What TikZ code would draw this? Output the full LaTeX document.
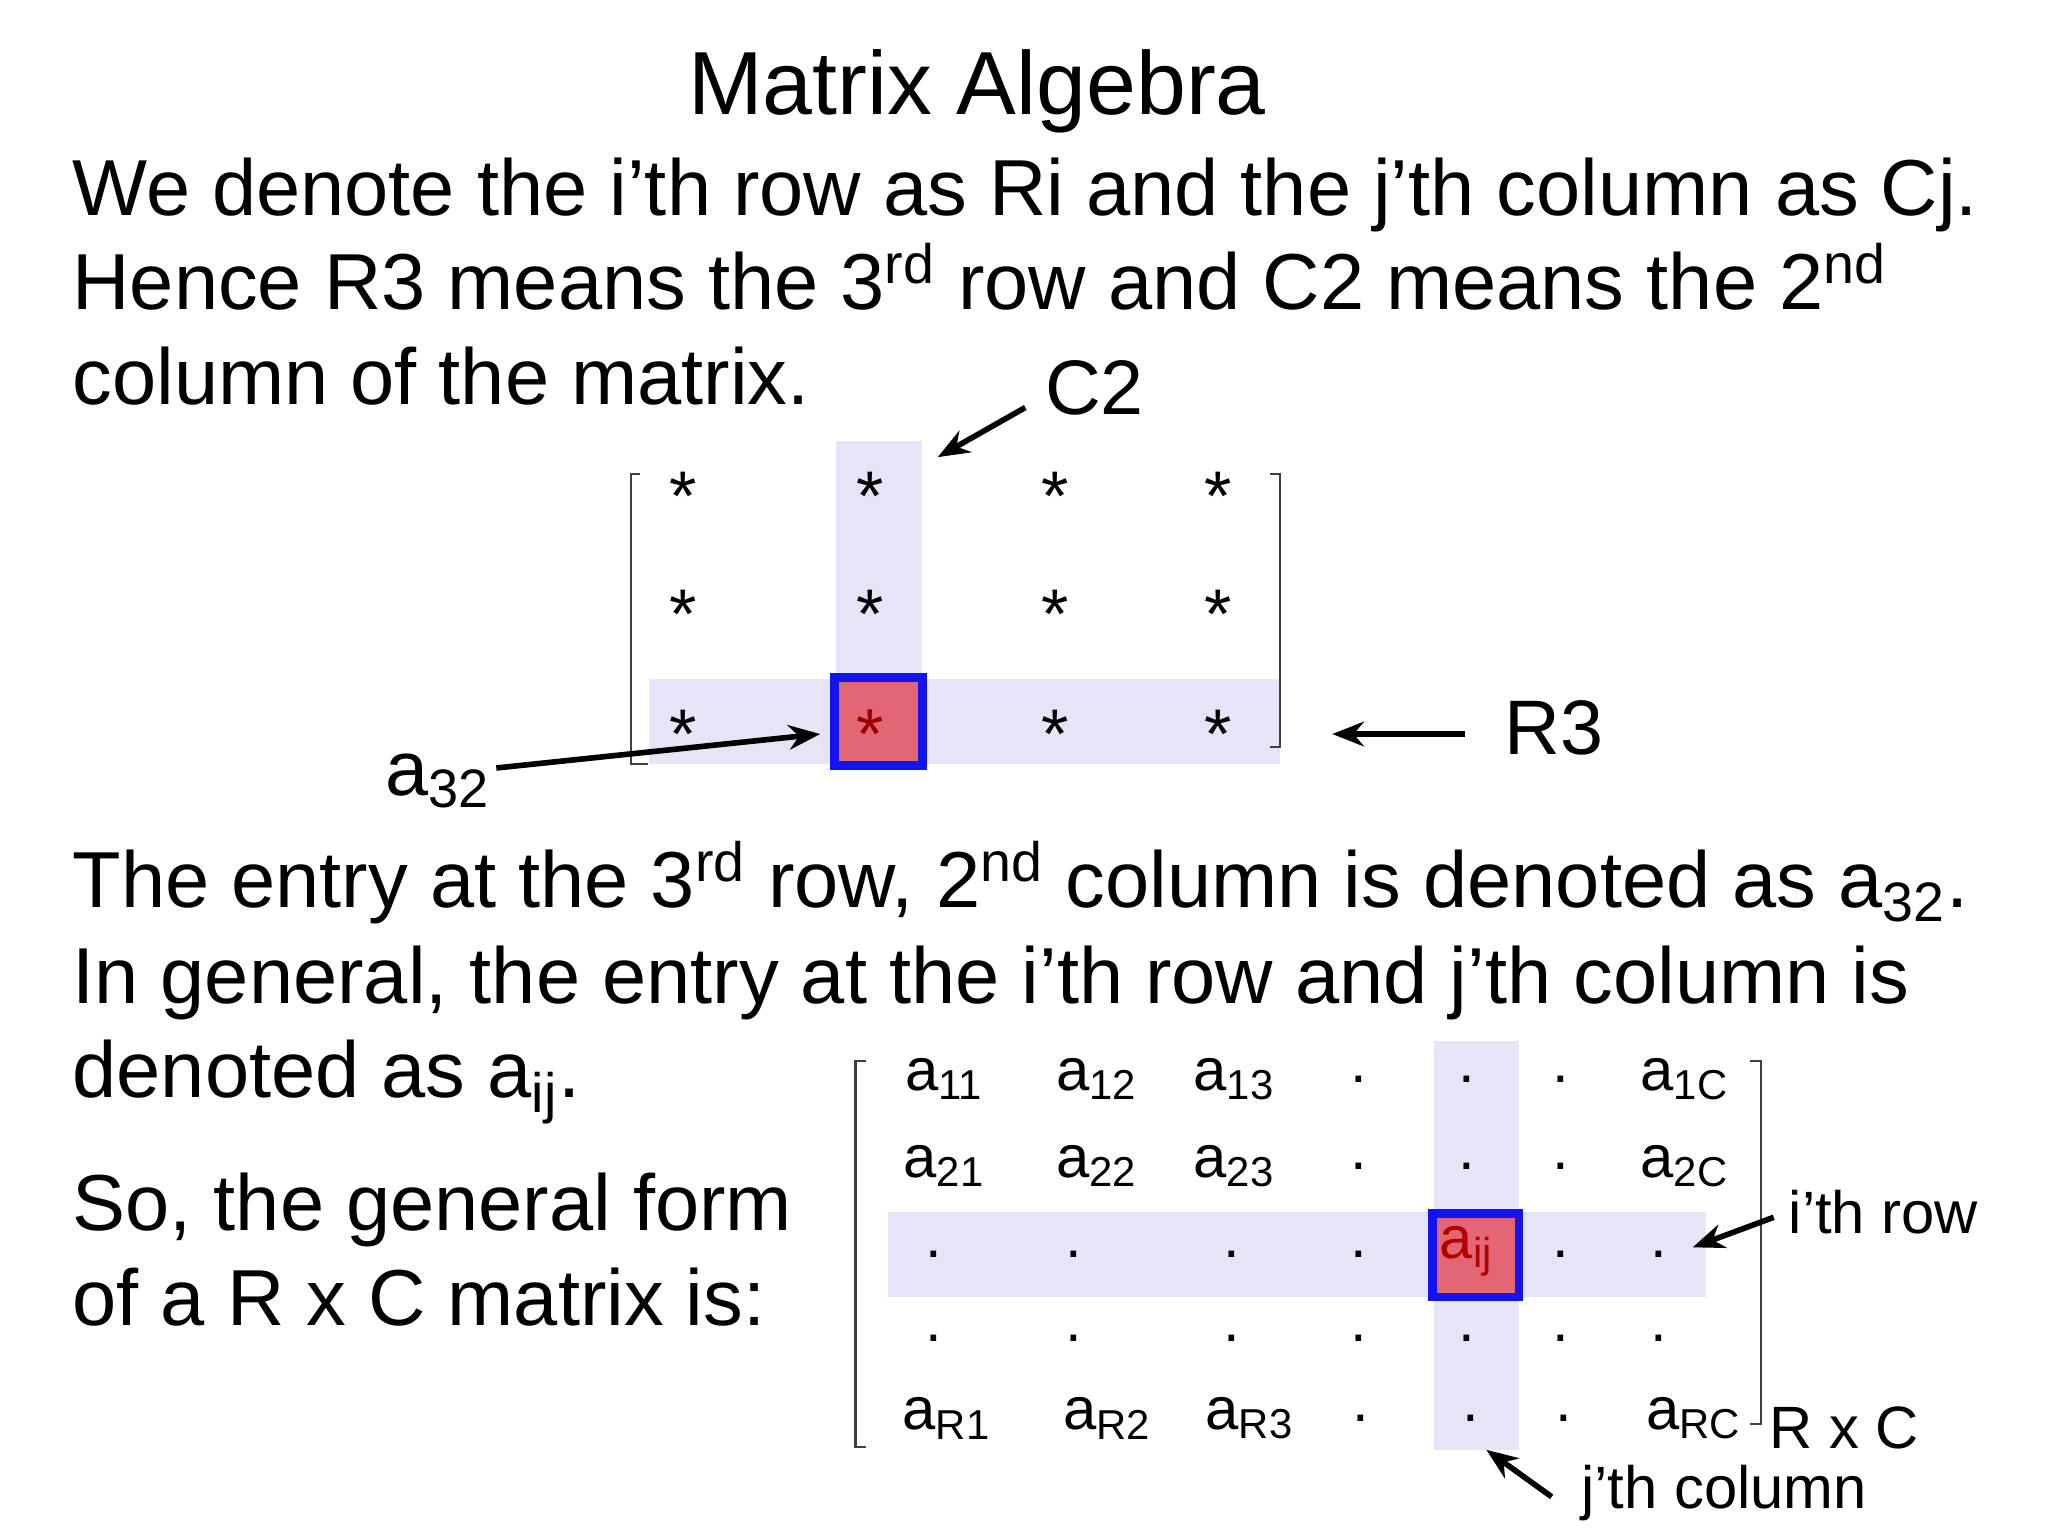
\documentclass[tikz,border=0pt]{standalone}
\usepackage{fontspec}
\setmainfont{Liberation Sans}
\usetikzlibrary{arrows.meta}
\definecolor{hl}{HTML}{E6E5F8}
\definecolor{redc}{HTML}{E26673}
\definecolor{bluec}{HTML}{1414F0}
\newcommand{\sbs}[1]{\textsubscript{#1}}
\newcommand{\sps}[1]{\textsuperscript{#1}}
\newcommand{\ap}{\char"0027\relax}
\tikzset{
  body/.style={anchor=base west,inner sep=0,font=\fontsize{22.6}{27}\selectfont},
  star/.style={inner sep=0,font=\fontsize{20}{24}\selectfont},
  ent/.style={inner sep=0,font=\fontsize{17}{20}\selectfont},
  lab/.style={inner sep=0,font=\fontsize{22}{26}\selectfont},
  slab/.style={inner sep=0,font=\fontsize{17}{20}\selectfont},
  arr/.style={-{Stealth[length=9pt,width=7pt]},line width=1.6pt},
  brk/.style={line width=0.6pt,gray!50!black},
  redbox/.style={fill=redc,draw=bluec,line width=2.5pt}
}
\begin{document}
\begin{tikzpicture}[x=0.013061cm,y=-0.013061cm]
\useasboundingbox[fill=white] (0,0) rectangle (1568,1176);
\node[inner sep=0,font=\fontsize{25.5}{30}\selectfont,anchor=base] (title) at (748,88) {Matrix Algebra};
\node[body] (l1) at (55,165) {We denote the i\ap th row as Ri and the j\ap th column as Cj.};
\node[body] (l2) at (55,237) {Hence R3 means the 3\sps{rd} row and C2 means the 2\sps{nd}};
\node[body] (l3) at (55,310) {column of the matrix.};
% matrix 1
\fill[hl] (640,338) rectangle (706,520);
\fill[hl] (497,520) rectangle (980,585);
\draw[redbox] (639,519) rectangle (706,586);
\draw[brk] (490,363) -- (483,363) -- (483,585) -- (496,585);
\draw[brk] (972,363) -- (980,363) -- (980,572) -- (972,572);
\foreach \x/\c in {523/1,666/2,808/3,933/4}{
  \foreach \y/\r in {380/1,470/2,562/3}{
    \node[star] (s\r\c) at (\x,\y) {*};
  }
}
\node[star,text=red!60!black,fill=redc] at (666,562) {*};
\node[lab] (c2) at (838,297) {C2};
\coordinate (c2a) at (785,312);
\coordinate (c2b) at (718,350);
\draw[arr] (c2a) -- (c2b);
\node[lab] (r3) at (1190,557) {R3};
\coordinate (r3a) at (1122,562);
\coordinate (r3b) at (1020,562);
\draw[arr] (r3a) -- (r3b);
\node[lab] (a32) at (335,598) {a\sbs{32}};
\coordinate (a32b) at (628,562);
\draw[arr] (380,588) -- (a32b);
% paragraph 2
\node[body] (p1) at (55,695) {The entry at the 3\sps{rd} row, 2\sps{nd} column is denoted as a\sbs{32}.};
\node[body] (p2) at (55,768) {In general, the entry at the i\ap th row and j\ap th column is};
\node[body] (p3) at (55,840) {denoted as a\sbs{ij}.};
\node[body] (p4) at (55,942) {So, the general form};
\node[body] (p5) at (55,1015) {of a R x C matrix is:};
% matrix 2
\fill[hl] (1098,797) rectangle (1163,1110);
\fill[hl] (680,928) rectangle (1306,993);
\draw[redbox] (1097,929) rectangle (1163,993);
\draw[brk] (663,812) -- (655,812) -- (655,1108) -- (663,1108);
\draw[brk] (1340,812) -- (1348,812) -- (1348,1090) -- (1340,1090);
\node[ent] (m11) at (723,826) {a\sbs{11}};
\node[ent] (m12) at (840,826) {a\sbs{12}};
\node[ent] (m13) at (945,826) {a\sbs{13}};
\node[ent] (m14) at (1040,826) {.};
\node[ent] (m15) at (1123,826) {.};
\node[ent] (m16) at (1195,826) {.};
\node[ent] (m17) at (1290,826) {a\sbs{1C}};
\node[ent] (m21) at (723,893) {a\sbs{21}};
\node[ent] (m22) at (840,893) {a\sbs{22}};
\node[ent] (m23) at (945,893) {a\sbs{23}};
\node[ent] (m24) at (1040,893) {.};
\node[ent] (m25) at (1123,893) {.};
\node[ent] (m26) at (1195,893) {.};
\node[ent] (m27) at (1290,893) {a\sbs{2C}};
\foreach \x/\c in {715/1,822/2,943/3,1040/4,1195/6,1270/7}{
  \node[ent] (m3\c) at (\x,960) {.};
  \node[ent] (m4\c) at (\x,1025) {.};
}
\node[ent,text=red!70!black] (m35) at (1123,958) {a\sbs{ij}};
\node[ent] (m45) at (1123,1025) {.};
\node[ent] (m51) at (725,1086) {a\sbs{R1}};
\node[ent] (m52) at (848,1086) {a\sbs{R2}};
\node[ent] (m53) at (957,1086) {a\sbs{R3}};
\node[ent] (m54) at (1042,1086) {.};
\node[ent] (m55) at (1126,1086) {.};
\node[ent] (m56) at (1197,1086) {.};
\node[ent] (m57) at (1297,1086) {a\sbs{RC}};
\node[slab] (irow) at (1442,928) {i\ap th row};
\draw[arr] (1358,932) -- (1296,955);
\node[slab] (rxc) at (1412,1093) {R x C};
\node[slab] (jcol) at (1320,1143) {j\ap th column};
\draw[arr] (1188,1146) -- (1138,1110);
\end{tikzpicture}
\end{document}
